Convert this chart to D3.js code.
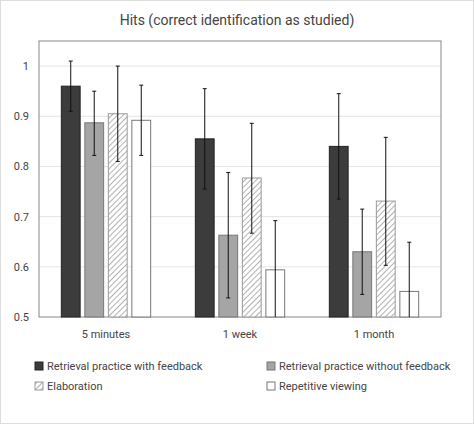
<!DOCTYPE html><html><head><script src="https://cdn.jsdelivr.net/npm/d3@7"></script>
<style>body{margin:0;background:#fff}text{font-family:Roboto,"Noto Sans",sans-serif}</style></head><body><svg id="c" width="474" height="424"></svg>
<script>
const categories=["5 minutes","1 week","1 month"];
const seriesNames=["Retrieval practice with feedback","Retrieval practice without feedback","Elaboration","Repetitive viewing"];
const values=[[0.96,0.855,0.84],[0.887,0.663,0.63],[0.905,0.777,0.731],[0.892,0.594,0.551]];
const errLow=[[0.91,0.755,0.735],[0.822,0.538,0.545],[0.81,0.667,0.603],[0.822,0.5,0.5]];
const errHigh=[[1.01,0.955,0.945],[0.95,0.788,0.715],[1.0,0.886,0.858],[0.962,0.692,0.649]];
const yTicks=[0.5,0.6,0.7,0.8,0.9,1];
const svg=d3.select("#c");
const L=39,R=441,T=41,B=317;
svg.append("rect").attr("x",0.5).attr("y",0.5).attr("width",473).attr("height",423).attr("fill","none").attr("stroke","#ddd");
const defs=svg.append("defs");
const p=defs.append("pattern").attr("id","h").attr("width",4).attr("height",4).attr("patternUnits","userSpaceOnUse").attr("patternTransform","rotate(45)");
p.append("rect").attr("width",4).attr("height",4).attr("fill","#fff");
p.append("line").attr("x1",0).attr("y1",0).attr("x2",0).attr("y2",4).attr("stroke","#999").attr("stroke-width",1.5);
const fills=["#3c3c3c","#a5a5a5","url(#h)","#fff"],strokes=["#222","#777","#999","#777"];
const x=d3.scaleBand().domain(categories).range([L,R]);
const xs=d3.scaleBand().domain(d3.range(4)).range([0,x.bandwidth()]).paddingInner(0.2).paddingOuter(0.95);
const y=d3.scaleLinear().domain([0.5,1.05]).range([B,T]);
svg.append("g").selectAll("line").data(yTicks.slice(1)).join("line").attr("x1",L).attr("x2",R).attr("y1",d=>y(d)).attr("y2",d=>y(d)).attr("stroke","#e4e4e4");
svg.append("rect").attr("x",L).attr("y",T).attr("width",R-L).attr("height",B-T).attr("fill","none").attr("stroke","#888");
svg.append("g").selectAll("text").data(yTicks).join("text").attr("x",L-10).attr("y",d=>y(d)+4).attr("text-anchor","end").attr("font-size",11).attr("fill","#444").text(d=>d);
svg.append("g").selectAll("text").data(categories).join("text").attr("x",d=>x(d)+x.bandwidth()/2).attr("y",338).attr("text-anchor","middle").attr("font-size",11).attr("fill","#444").text(d=>d);
values.forEach((s,i)=>{
 const g=svg.append("g");
 g.selectAll("rect").data(categories).join("rect").attr("x",c=>x(c)+xs(i)).attr("width",xs.bandwidth()).attr("y",(c,j)=>y(s[j])).attr("height",(c,j)=>B-y(s[j])).attr("fill",fills[i]).attr("stroke",strokes[i]);
 categories.forEach((c,j)=>{const cx=x(c)+xs(i)+xs.bandwidth()/2;
  g.append("line").attr("x1",cx).attr("x2",cx).attr("y1",y(errLow[i][j])).attr("y2",y(errHigh[i][j])).attr("stroke","#111");
  [errLow[i][j],errHigh[i][j]].forEach(v=>{if(v>0.5)g.append("line").attr("x1",cx-2).attr("x2",cx+2).attr("y1",y(v)).attr("y2",y(v)).attr("stroke","#111");});
 });
});
svg.append("text").attr("x",237).attr("y",25).attr("text-anchor","middle").attr("font-size",14).attr("fill","#444").text("Hits (correct identification as studied)");
const lg=[[35,366],[267,366],[35,386],[267,386]];
seriesNames.forEach((n,i)=>{svg.append("rect").attr("x",lg[i][0]).attr("y",lg[i][1]-4).attr("width",8).attr("height",8).attr("fill",fills[i]).attr("stroke",strokes[i]);
 svg.append("text").attr("x",lg[i][0]+12).attr("y",lg[i][1]+4).attr("font-size",11).attr("fill","#444").text(n);});
</script></body></html>
